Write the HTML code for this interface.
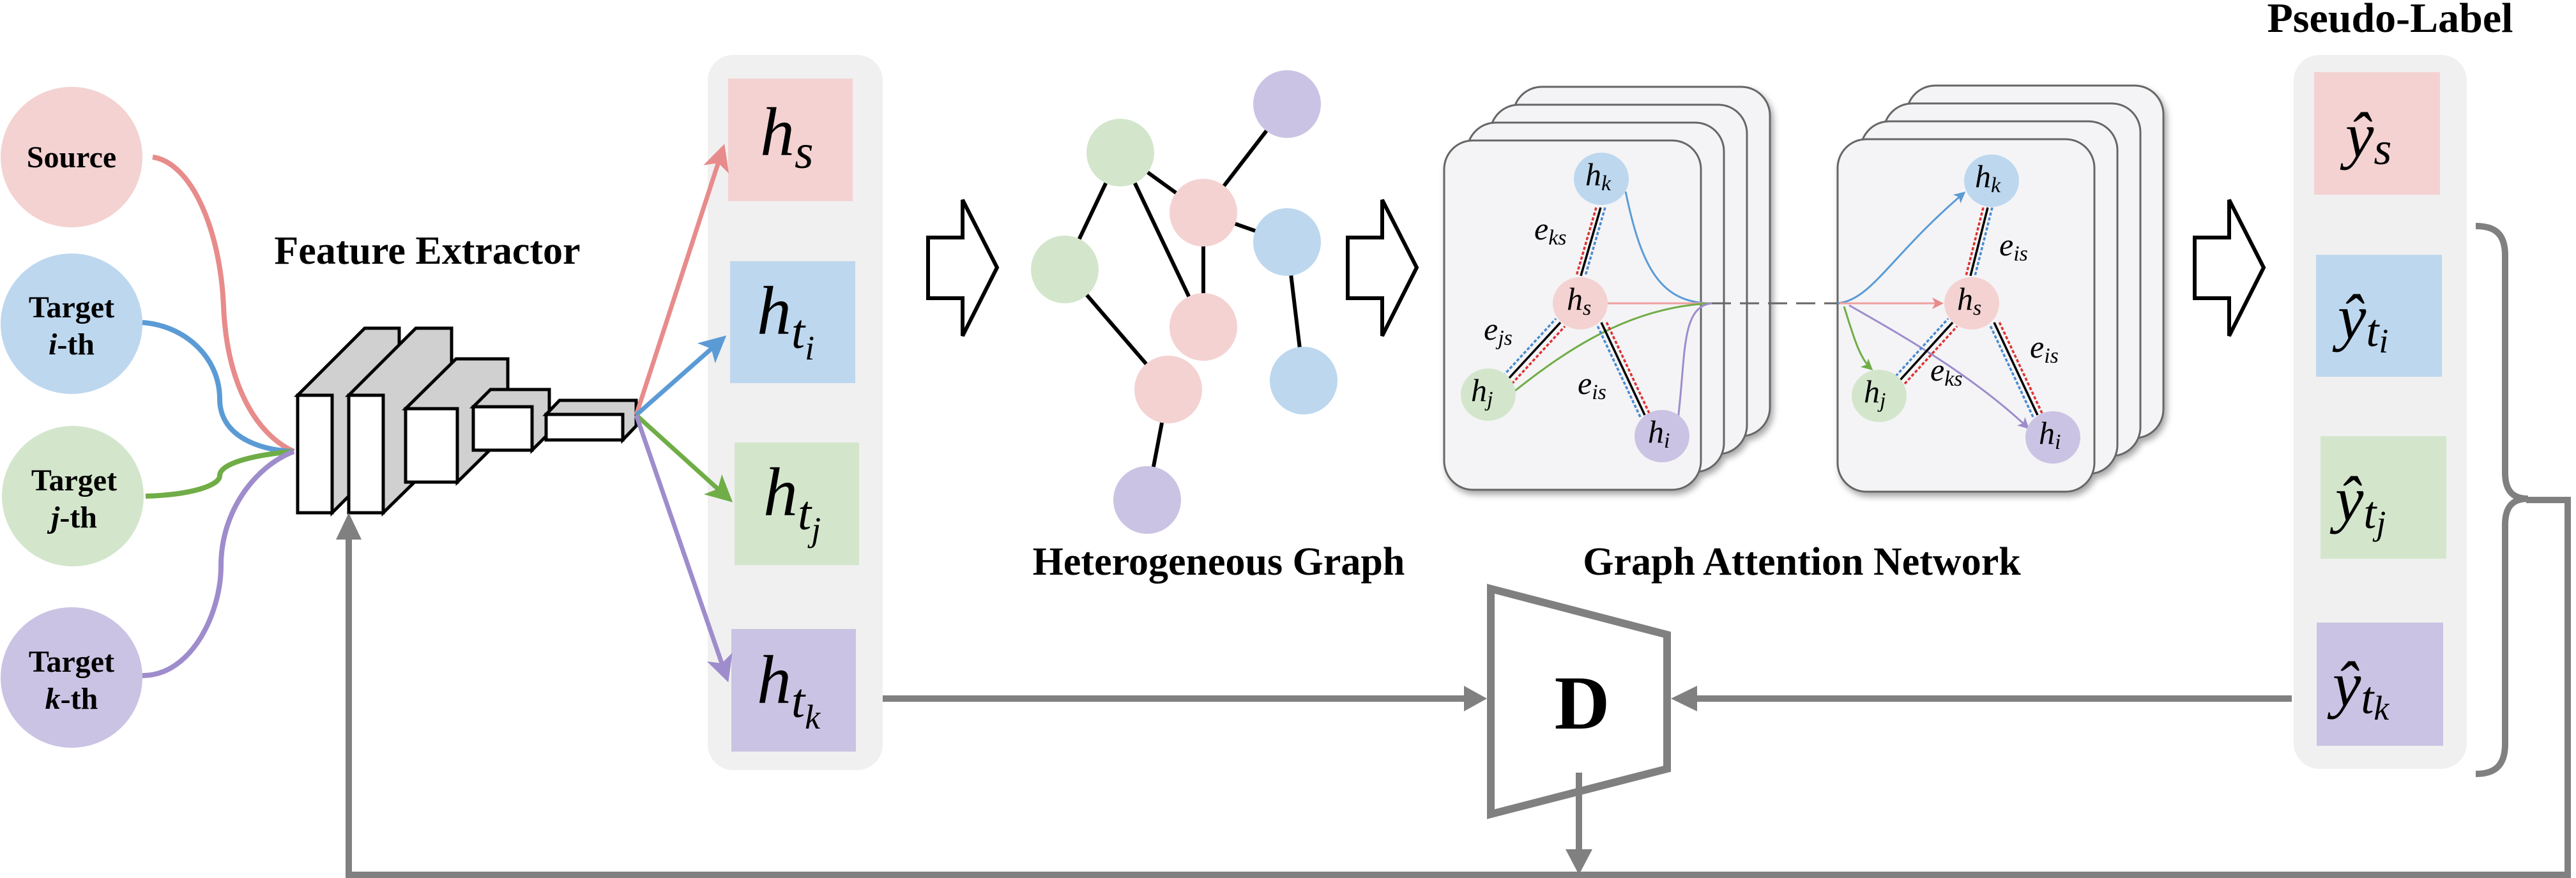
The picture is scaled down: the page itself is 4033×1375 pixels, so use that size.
<!DOCTYPE html>
<html><head><meta charset="utf-8"><style>
html,body{margin:0;padding:0;background:#fff}
svg{display:block}
.b{font-family:"Liberation Serif",serif;font-weight:bold}
.m{font-family:"Liberation Serif",serif;font-style:italic}
</style></head><body>
<svg width="4033" height="1375" viewBox="0 0 4033 1375" xmlns="http://www.w3.org/2000/svg">
<defs>
<marker id="ap" markerWidth="6" markerHeight="6" refX="5" refY="3" orient="auto" markerUnits="strokeWidth"><path d="M0,0 L6,3 L0,6 L1.5,3z" fill="#e88b8b"/></marker>
<marker id="ab" markerWidth="6" markerHeight="6" refX="5" refY="3" orient="auto" markerUnits="strokeWidth"><path d="M0,0 L6,3 L0,6 L1.5,3z" fill="#5b9bd5"/></marker>
<marker id="ag" markerWidth="6" markerHeight="6" refX="5" refY="3" orient="auto" markerUnits="strokeWidth"><path d="M0,0 L6,3 L0,6 L1.5,3z" fill="#70ad47"/></marker>
<marker id="av" markerWidth="6" markerHeight="6" refX="5" refY="3" orient="auto" markerUnits="strokeWidth"><path d="M0,0 L6,3 L0,6 L1.5,3z" fill="#9e8ccc"/></marker>
<filter id="sh" x="-10%" y="-10%" width="130%" height="130%"><feDropShadow dx="4" dy="6" stdDeviation="5" flood-color="#000" flood-opacity="0.35"/></filter>
</defs>

<ellipse cx="112" cy="246" rx="111" ry="110" fill="#f4d2d2"/>
<ellipse cx="112" cy="507" rx="111" ry="110" fill="#bdd7ee"/>
<ellipse cx="114" cy="777" rx="111" ry="110" fill="#d3e6cc"/>
<ellipse cx="112" cy="1061" rx="111" ry="110" fill="#cbc3e3"/>
<g class="b" font-size="48" text-anchor="middle">
<text x="112" y="262">Source</text>
<text x="112" y="497">Target</text><text x="112" y="555"><tspan font-style="italic">i</tspan>-th</text>
<text x="116" y="768">Target</text><text x="116" y="826"><tspan font-style="italic">j</tspan>-th</text>
<text x="112" y="1052">Target</text><text x="112" y="1110"><tspan font-style="italic">k</tspan>-th</text>
</g>
<g fill="none" stroke-width="8">
<path d="M239,246 C300,255 345,360 350,480 C355,600 400,680 460,707" stroke="#e88b8b"/>
<path d="M223,505 C290,510 344,560 344,625 C344,680 400,705 460,707" stroke="#5b9bd5"/>
<path d="M228,777 C300,775 344,760 344,745 C344,725 400,712 460,707" stroke="#70ad47"/>
<path d="M223,1058 C300,1058 346,960 346,886 C346,800 400,730 460,707" stroke="#9e8ccc"/>
</g>
<text class="b" x="669" y="413" font-size="62" text-anchor="middle">Feature Extractor</text>

<g stroke="#000" stroke-width="5" stroke-linejoin="miter">
<polygon points="466,619 571,514 625,514 625,698 520,803 520,619" fill="#d0d0d0"/>
<rect x="466" y="619" width="54" height="184" fill="#fff"/>
<polygon points="546,619 651,514 707,514 707,698 600,803 600,619" fill="#d0d0d0"/>
<rect x="546" y="619" width="54" height="184" fill="#fff"/>
<polygon points="635,640 714,562 795,562 795,677 716,755 716,640" fill="#d0d0d0"/>
<rect x="635" y="640" width="81" height="115" fill="#fff"/>
<polygon points="741,637 768,610 860,610 860,678 833,705 833,637" fill="#d0d0d0"/>
<rect x="741" y="637" width="92" height="68" fill="#fff"/>
<polygon points="855,649 876,627 996,627 996,667 975,689 975,649" fill="#d0d0d0"/>
<rect x="855" y="649" width="120" height="40" fill="#fff"/>
</g>

<rect x="1108" y="86" width="274" height="1120" rx="40" fill="#f0f0f0"/>
<rect x="1140" y="123" width="195" height="192" fill="#f4d2d2"/>
<rect x="1143" y="409" width="196" height="191" fill="#bdd7ee"/>
<rect x="1150" y="693" width="195" height="192" fill="#d3e6cc"/>
<rect x="1145" y="985" width="195" height="192" fill="#cbc3e3"/>
<g class="m" font-size="108">
<text x="1190" y="243">h<tspan font-size="76" dy="20">s</tspan></text>
<text x="1185" y="523">h<tspan font-size="76" dy="22">t</tspan><tspan font-size="54" dy="18">i</tspan></text>
<text x="1195" y="807">h<tspan font-size="76" dy="22">t</tspan><tspan font-size="54" dy="18">j</tspan></text>
<text x="1185" y="1101">h<tspan font-size="76" dy="22">t</tspan><tspan font-size="54" dy="18">k</tspan></text>
</g>
<g fill="none" stroke-width="7">
<line x1="996" y1="650" x2="1132" y2="232" stroke="#e88b8b" marker-end="url(#ap)"/>
<line x1="996" y1="650" x2="1132" y2="530" stroke="#5b9bd5" marker-end="url(#ab)"/>
<line x1="996" y1="650" x2="1142" y2="782" stroke="#70ad47" marker-end="url(#ag)"/>
<line x1="996" y1="650" x2="1138" y2="1062" stroke="#9e8ccc" marker-end="url(#av)"/>
</g>

<g fill="#fff" stroke="#000" stroke-width="6">
<polygon points="1453,372 1507,372 1507,313 1561,419 1507,526 1507,467 1453,467"/>
<polygon points="2110,372 2164,372 2164,313 2218,419 2164,526 2164,467 2110,467"/>
<polygon points="3436,372 3490,372 3490,313 3544,419 3490,526 3490,467 3436,467"/>
</g>

<g stroke="#000" stroke-width="6">
<line x1="2015" y1="163" x2="1884" y2="333"/>
<line x1="1754" y1="239" x2="1884" y2="333"/>
<line x1="1754" y1="239" x2="1667" y2="422"/>
<line x1="1754" y1="239" x2="1884" y2="512"/>
<line x1="1884" y1="333" x2="2015" y2="379"/>
<line x1="1884" y1="333" x2="1884" y2="512"/>
<line x1="2015" y1="379" x2="2041" y2="596"/>
<line x1="1667" y1="422" x2="1829" y2="610"/>
<line x1="1829" y1="610" x2="1796" y2="783"/>
</g>
<g>
<circle cx="2015" cy="163" r="53" fill="#cbc3e3"/>
<circle cx="1754" cy="239" r="53" fill="#d3e6cc"/>
<circle cx="1884" cy="333" r="53" fill="#f4d2d2"/>
<circle cx="2015" cy="379" r="53" fill="#bdd7ee"/>
<circle cx="1667" cy="422" r="53" fill="#d3e6cc"/>
<circle cx="1884" cy="512" r="53" fill="#f4d2d2"/>
<circle cx="2041" cy="596" r="53" fill="#bdd7ee"/>
<circle cx="1829" cy="610" r="53" fill="#f4d2d2"/>
<circle cx="1796" cy="783" r="53" fill="#cbc3e3"/>
</g>
<text class="b" x="1908" y="900" font-size="62" text-anchor="middle">Heterogeneous Graph</text>
<text class="b" x="2821" y="900" font-size="62" text-anchor="middle">Graph Attention Network</text>

<g fill="#f4f4f6" stroke="#666" stroke-width="3" filter="url(#sh)">
<rect x="2369" y="136" width="402" height="547" rx="45"/>
<rect x="2333" y="164" width="402" height="547" rx="45"/>
<rect x="2297" y="192" width="402" height="547" rx="45"/>
<rect x="2261" y="220" width="402" height="547" rx="45"/>
<rect x="2985" y="134" width="402" height="552" rx="45"/>
<rect x="2949" y="162" width="402" height="552" rx="45"/>
<rect x="2913" y="190" width="402" height="552" rx="45"/>
<rect x="2877" y="218" width="402" height="552" rx="45"/>
</g>
<g fill="none" stroke-width="3">
<path d="M2545,300 C2570,420 2600,475 2680,475" stroke="#5b9bd5"/>
<line x1="2510" y1="475" x2="2680" y2="475" stroke="#f0a0a0"/>
<path d="M2368,615 C2450,550 2550,480 2680,475" stroke="#70ad47"/>
<path d="M2626,665 C2640,560 2630,480 2680,475" stroke="#9e8ccc"/>
<line x1="2680" y1="475" x2="2880" y2="475" stroke="#666" stroke-dasharray="30 14"/>
<path d="M2877,475 C2930,470 2960,400 3075,302" stroke="#5b9bd5" marker-end="url(#ab)"/>
<line x1="2880" y1="475" x2="3040" y2="475" stroke="#f0a0a0" marker-end="url(#ap)"/>
<path d="M2887,480 C2900,520 2910,560 2930,578" stroke="#70ad47" marker-end="url(#ag)"/>
<path d="M2895,478 C2950,510 3080,580 3175,670" stroke="#9e8ccc" marker-end="url(#av)"/>
</g>
<g stroke-width="3.5" fill="none">
<line x1="2506" y1="325" x2="2475" y2="432" stroke="#000"/>
<line x1="2499" y1="325" x2="2468" y2="432" stroke="#d33" stroke-dasharray="5 3"/>
<line x1="2513" y1="325" x2="2482" y2="432" stroke="#4a8ad0" stroke-dasharray="5 3"/>
<line x1="2360" y1="595" x2="2443" y2="505" stroke="#000"/>
<line x1="2367" y1="601" x2="2450" y2="511" stroke="#d33" stroke-dasharray="5 3"/>
<line x1="2353" y1="589" x2="2436" y2="499" stroke="#4a8ad0" stroke-dasharray="5 3"/>
<line x1="2575" y1="650" x2="2507" y2="505" stroke="#000"/>
<line x1="2582" y1="647" x2="2514" y2="502" stroke="#d33" stroke-dasharray="5 3"/>
<line x1="2568" y1="653" x2="2500" y2="508" stroke="#4a8ad0" stroke-dasharray="5 3"/>
<line x1="3112" y1="325" x2="3085" y2="432" stroke="#000"/>
<line x1="3105" y1="325" x2="3078" y2="432" stroke="#d33" stroke-dasharray="5 3"/>
<line x1="3119" y1="325" x2="3092" y2="432" stroke="#4a8ad0" stroke-dasharray="5 3"/>
<line x1="2975" y1="595" x2="3057" y2="505" stroke="#000"/>
<line x1="2982" y1="601" x2="3064" y2="511" stroke="#d33" stroke-dasharray="5 3"/>
<line x1="2968" y1="589" x2="3050" y2="499" stroke="#4a8ad0" stroke-dasharray="5 3"/>
<line x1="3190" y1="650" x2="3122" y2="505" stroke="#000"/>
<line x1="3197" y1="647" x2="3129" y2="502" stroke="#d33" stroke-dasharray="5 3"/>
<line x1="3183" y1="653" x2="3115" y2="508" stroke="#4a8ad0" stroke-dasharray="5 3"/>
</g>
<g>
<ellipse cx="2507" cy="280" rx="43" ry="41" fill="#bdd7ee"/>
<ellipse cx="2474" cy="475" rx="43" ry="41" fill="#f4d2d2"/>
<ellipse cx="2330" cy="618" rx="43" ry="41" fill="#d3e6cc"/>
<ellipse cx="2602" cy="683" rx="43" ry="41" fill="#cbc3e3"/>
<ellipse cx="3118" cy="283" rx="43" ry="41" fill="#bdd7ee"/>
<ellipse cx="3087" cy="475" rx="43" ry="41" fill="#f4d2d2"/>
<ellipse cx="2942" cy="620" rx="43" ry="41" fill="#d3e6cc"/>
<ellipse cx="3214" cy="685" rx="43" ry="41" fill="#cbc3e3"/>
</g>
<g class="m" font-size="50">
<text x="2482" y="290">h<tspan font-size="34" dy="8">k</tspan></text>
<text x="2453" y="485">h<tspan font-size="34" dy="8">s</tspan></text>
<text x="2303" y="628">h<tspan font-size="34" dy="8">j</tspan></text>
<text x="2580" y="693">h<tspan font-size="34" dy="8">i</tspan></text>
<text x="3092" y="293">h<tspan font-size="34" dy="8">k</tspan></text>
<text x="3064" y="485">h<tspan font-size="34" dy="8">s</tspan></text>
<text x="2918" y="630">h<tspan font-size="34" dy="8">j</tspan></text>
<text x="3192" y="695">h<tspan font-size="34" dy="8">i</tspan></text>
<text x="2402" y="375">e<tspan font-size="34" dy="8">ks</tspan></text>
<text x="2323" y="532">e<tspan font-size="34" dy="8">js</tspan></text>
<text x="2470" y="617">e<tspan font-size="34" dy="8">is</tspan></text>
<text x="3130" y="400">e<tspan font-size="34" dy="8">is</tspan></text>
<text x="3022" y="596">e<tspan font-size="34" dy="8">ks</tspan></text>
<text x="3178" y="560">e<tspan font-size="34" dy="8">is</tspan></text>
</g>

<text class="b" x="3742" y="50" font-size="66" text-anchor="middle">Pseudo-Label</text>
<rect x="3591" y="86" width="271" height="1118" rx="40" fill="#f0f0f0"/>
<rect x="3623" y="113" width="197" height="192" fill="#f4d2d2"/>
<rect x="3626" y="399" width="197" height="191" fill="#bdd7ee"/>
<rect x="3633" y="683" width="197" height="192" fill="#d3e6cc"/>
<rect x="3627" y="975" width="198" height="193" fill="#cbc3e3"/>
<g class="m" font-size="100">
<text x="3672" y="245">ŷ<tspan font-size="72" dy="12">s</tspan></text>
<text x="3660" y="530">ŷ<tspan font-size="72" dy="12">t</tspan><tspan font-size="54" dy="10">i</tspan></text>
<text x="3656" y="815">ŷ<tspan font-size="72" dy="12">t</tspan><tspan font-size="54" dy="10">j</tspan></text>
<text x="3652" y="1105">ŷ<tspan font-size="72" dy="12">t</tspan><tspan font-size="54" dy="10">k</tspan></text>
</g>

<polygon points="2334,922 2610,994 2610,1204 2334,1275" fill="#fff" stroke="#808080" stroke-width="12"/>
<text class="b" x="2477" y="1141" font-size="120" text-anchor="middle">D</text>
<g stroke="#808080" stroke-width="10" fill="none">
<line x1="1382" y1="1094" x2="2295" y2="1094"/>
<line x1="3588" y1="1094" x2="2655" y2="1094"/>
<line x1="2472" y1="1210" x2="2472" y2="1335"/>
<polyline points="546,825 546,1370 4020,1370 4020,783 3955,783"/>
<path d="M3876,354 C3905,354 3922,365 3922,400 L3922,740 C3922,770 3935,781 3958,781 C3935,781 3922,792 3922,822 L3922,1165 C3922,1200 3905,1212 3876,1212"/>
</g>
<g fill="#808080">
<polygon points="2328,1094 2292,1074 2292,1114"/>
<polygon points="2616,1094 2657,1074 2657,1114"/>
<polygon points="2472,1370 2451,1330 2493,1330"/>
<polygon points="546,803 526,845 566,845"/>
</g>
</svg>
</body></html>
